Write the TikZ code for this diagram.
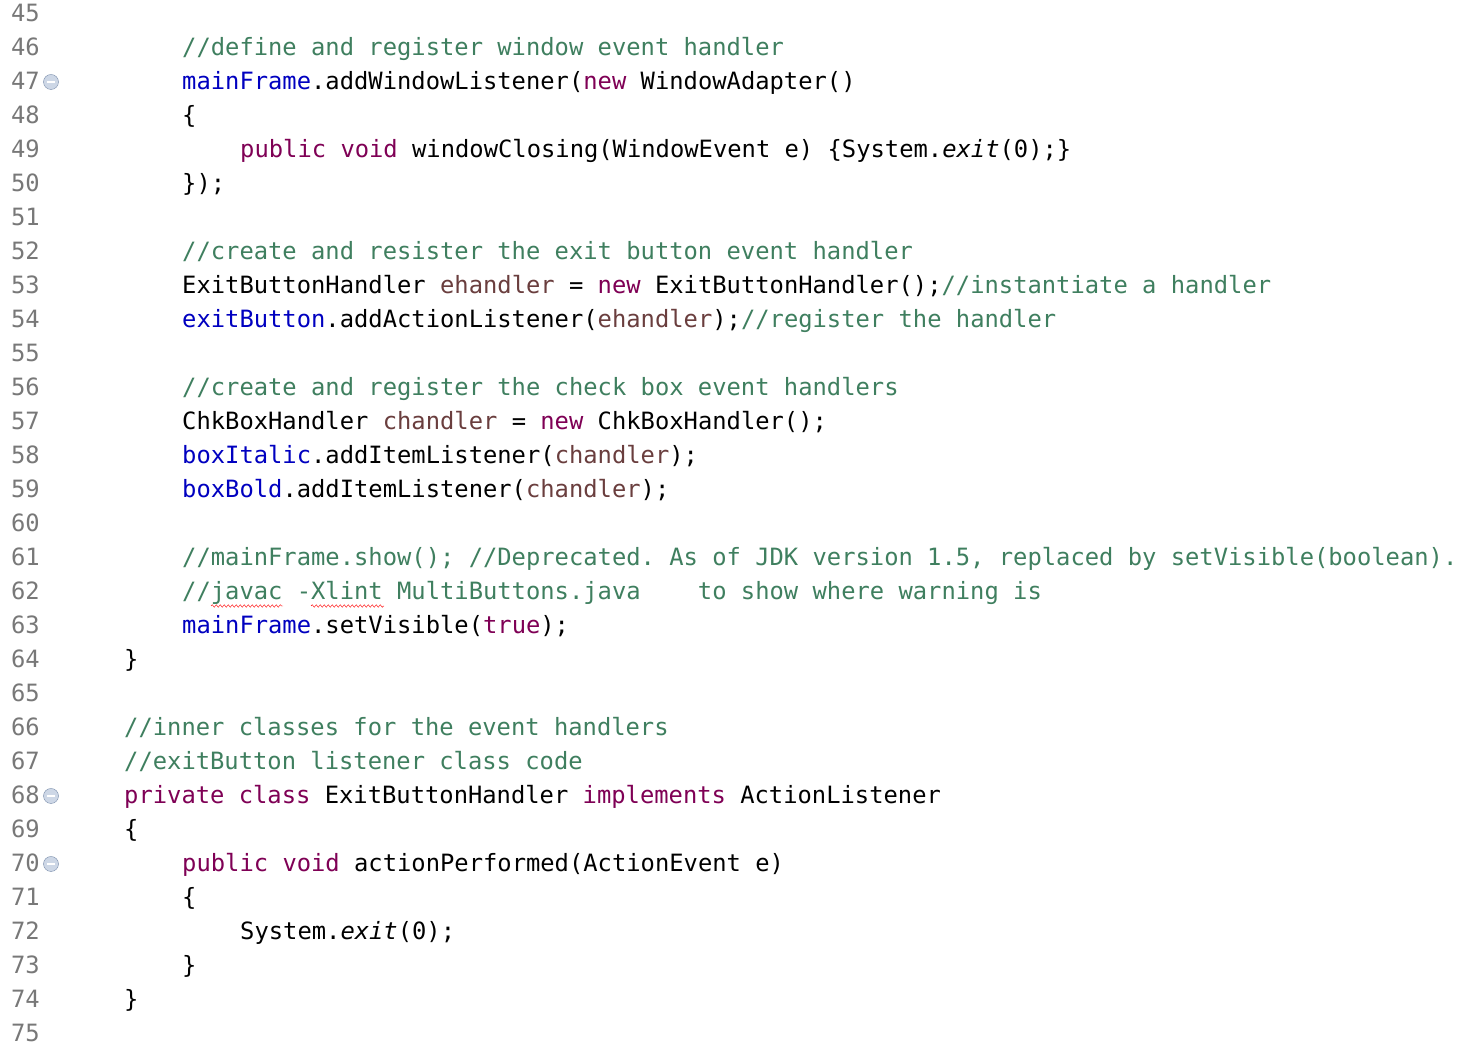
\documentclass[tikz,border=0pt]{standalone}
\usepackage{fontspec}
\setmonofont{DejaVu Sans Mono}
\usetikzlibrary{decorations.pathmorphing}
\definecolor{kw}{RGB}{127,0,85}
\definecolor{fd}{RGB}{0,0,192}
\definecolor{cm}{RGB}{63,127,95}
\definecolor{lv}{RGB}{106,62,62}
\definecolor{ln}{RGB}{120,120,120}
\definecolor{folddraw}{RGB}{120,140,170}
\definecolor{foldfill}{RGB}{205,215,230}
\newcommand\K[1]{\textcolor{kw}{#1}}
\newcommand\F[1]{\textcolor{fd}{#1}}
\newcommand\C[1]{\textcolor{cm}{#1}}
\newcommand\V[1]{\textcolor{lv}{#1}}
\newcommand\I[1]{\textit{#1}}
\begin{document}
\begin{tikzpicture}[x=1pt,y=1pt,
  code/.style={anchor=base west,inner sep=0pt,font=\fontsize{23.8}{24}\ttfamily},
  num/.style={anchor=base east,inner sep=0pt,text=ln,font=\fontsize{23.8}{24}\ttfamily},
  fold/.style={circle,draw=folddraw,fill=foldfill,minimum size=15pt,inner sep=0pt}]
\useasboundingbox (0,0) rectangle (1462,1048);
\fill[white] (0,0) rectangle (1462,1048);
\foreach \n in {45,...,75}{
  \pgfmathsetmacro\yy{1048-13-34*(\n-45)-9}
  \node[num] (n\n) at (40,\yy) {\n};
}
\newcommand\Ln[3]{\pgfmathsetmacro\yy{1048-13-34*(#1-45)-9}\node[code] (c#1) at (#2,\yy) {#3};}
\Ln{46}{182}{\C{//define and register window event handler}}
\Ln{47}{182}{\F{mainFrame}.addWindowListener(\K{new} WindowAdapter()}
\Ln{48}{182}{\{}
\Ln{49}{240}{\K{public} \K{void} windowClosing(WindowEvent e) \{System.\I{exit}(0);\}}
\Ln{50}{182}{\});}
\Ln{52}{182}{\C{//create and resister the exit button event handler}}
\Ln{53}{182}{ExitButtonHandler \V{ehandler} = \K{new} ExitButtonHandler();\C{//instantiate a handler}}
\Ln{54}{182}{\F{exitButton}.addActionListener(\V{ehandler});\C{//register the handler}}
\Ln{56}{182}{\C{//create and register the check box event handlers}}
\Ln{57}{182}{ChkBoxHandler \V{chandler} = \K{new} ChkBoxHandler();}
\Ln{58}{182}{\F{boxItalic}.addItemListener(\V{chandler});}
\Ln{59}{182}{\F{boxBold}.addItemListener(\V{chandler});}
\Ln{61}{182}{\C{//mainFrame.show(); //Deprecated. As of JDK version 1.5, replaced by setVisible(boolean).}}
\Ln{62}{182}{\C{//javac -Xlint MultiButtons.java~~~~to show where warning is}}
\Ln{63}{182}{\F{mainFrame}.setVisible(\K{true});}
\Ln{64}{124}{\}}
\Ln{66}{124}{\C{//inner classes for the event handlers}}
\Ln{67}{124}{\C{//exitButton listener class code}}
\Ln{68}{124}{\K{private} \K{class} ExitButtonHandler \K{implements} ActionListener}
\Ln{69}{124}{\{}
\Ln{70}{182}{\K{public} \K{void} actionPerformed(ActionEvent e)}
\Ln{71}{182}{\{}
\Ln{72}{240}{System.\I{exit}(0);}
\Ln{73}{182}{\}}
\Ln{74}{124}{\}}
\foreach \n in {47,68,70}{
  \node[fold] (f\n) at ([xshift=11pt,yshift=8pt]n\n.base east) {};
  \draw[white,line width=1.5pt] ([xshift=-4pt]f\n.center) -- ([xshift=4pt]f\n.center);
}
\pgfmathsetmacro\yq{1048-13-34*17-9-6}
\draw[red,decorate,decoration={snake,amplitude=1.3pt,segment length=4pt}] (211,\yq) -- (283,\yq);
\draw[red,decorate,decoration={snake,amplitude=1.3pt,segment length=4pt}] (311,\yq) -- (384,\yq);
\end{tikzpicture}
\end{document}
